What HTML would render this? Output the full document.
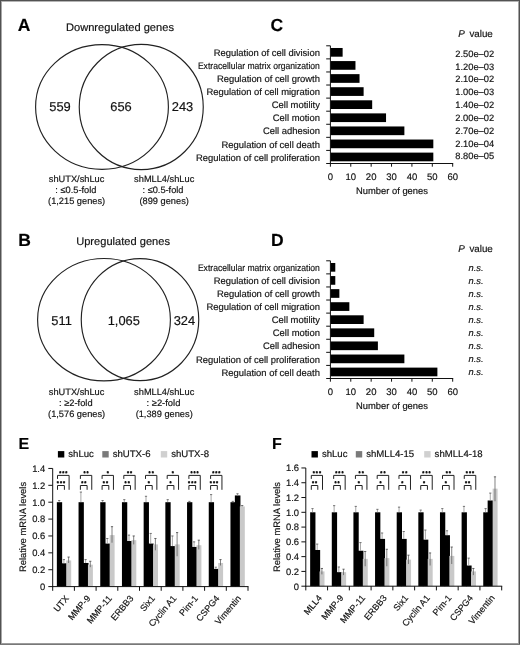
<!DOCTYPE html><html><head><meta charset="utf-8"><style>html,body{margin:0;padding:0;background:#fff}svg{display:block;text-rendering:geometricPrecision}text{stroke:#1a1a1a;stroke-width:0.18px}text.st{font-size:5.4px;letter-spacing:1.0px;stroke:#111;stroke-width:0.55px;fill:#111}</style></head><body>
<svg width="520" height="645" viewBox="0 0 520 645" font-family="'Liberation Sans', Arial, Helvetica, sans-serif">
<rect x="0.00" y="0.00" width="520.00" height="645.00" fill="#fff"/>
<text x="17.80" y="30.80" font-size="17.5" font-weight="bold" fill="#000">A</text>
<text x="66.00" y="31.20" font-size="11.1" fill="#111">Downregulated genes</text>
<ellipse cx="102" cy="107" rx="66.4" ry="62.3" fill="none" stroke="#222" stroke-width="1.15"/>
<ellipse cx="141.25" cy="107" rx="62" ry="62.6" fill="none" stroke="#222" stroke-width="1.15"/>
<text x="60.00" y="111.00" font-size="12.9" text-anchor="middle" fill="#111">559</text>
<text x="121.00" y="111.00" font-size="12.9" text-anchor="middle" fill="#111">656</text>
<text x="182.50" y="111.00" font-size="12.9" text-anchor="middle" fill="#111">243</text>
<text x="76.60" y="181.90" font-size="9.25" text-anchor="middle" fill="#111">shUTX/shLuc</text>
<text x="75.90" y="192.85" font-size="9.25" text-anchor="middle" textLength="41.2" lengthAdjust="spacingAndGlyphs" fill="#111">: ≤0.5-fold</text>
<text x="76.60" y="203.70" font-size="9.25" text-anchor="middle" fill="#111">(1,215 genes)</text>
<text x="164.20" y="181.90" font-size="9.25" text-anchor="middle" fill="#111">shMLL4/shLuc</text>
<text x="163.00" y="192.85" font-size="9.25" text-anchor="middle" textLength="41.0" lengthAdjust="spacingAndGlyphs" fill="#111">: ≤0.5-fold</text>
<text x="164.20" y="203.70" font-size="9.25" text-anchor="middle" fill="#111">(899 genes)</text>
<text x="18.20" y="245.60" font-size="17.5" font-weight="bold" fill="#000">B</text>
<text x="76.20" y="245.10" font-size="11.1" fill="#111">Upregulated genes</text>
<ellipse cx="104" cy="319.7" rx="66.4" ry="61.2" fill="none" stroke="#222" stroke-width="1.15"/>
<ellipse cx="140" cy="319.6" rx="58.75" ry="61" fill="none" stroke="#222" stroke-width="1.15"/>
<text x="61.60" y="324.90" font-size="12.9" text-anchor="middle" fill="#111">511</text>
<text x="123.85" y="324.90" font-size="12.9" text-anchor="middle" fill="#111">1,065</text>
<text x="184.40" y="324.90" font-size="12.9" text-anchor="middle" fill="#111">324</text>
<text x="76.60" y="394.90" font-size="9.25" text-anchor="middle" fill="#111">shUTX/shLuc</text>
<text x="75.80" y="405.90" font-size="9.25" text-anchor="middle" textLength="33.5" lengthAdjust="spacingAndGlyphs" fill="#111">: ≥2-fold</text>
<text x="76.60" y="416.90" font-size="9.25" text-anchor="middle" fill="#111">(1,576 genes)</text>
<text x="164.20" y="394.90" font-size="9.25" text-anchor="middle" fill="#111">shMLL4/shLuc</text>
<text x="163.45" y="405.90" font-size="9.25" text-anchor="middle" textLength="33.9" lengthAdjust="spacingAndGlyphs" fill="#111">: ≥2-fold</text>
<text x="164.20" y="416.90" font-size="9.25" text-anchor="middle" fill="#111">(1,389 genes)</text>
<text x="270.60" y="31.00" font-size="17.5" font-weight="bold" fill="#000">C</text>
<rect x="330.40" y="47.99" width="12.23" height="8.70" fill="#000"/>
<rect x="330.40" y="61.07" width="25.07" height="8.70" fill="#000"/>
<rect x="330.40" y="74.14" width="29.14" height="8.70" fill="#000"/>
<rect x="330.40" y="87.22" width="33.22" height="8.70" fill="#000"/>
<rect x="330.40" y="100.30" width="41.78" height="8.70" fill="#000"/>
<rect x="330.40" y="113.38" width="55.64" height="8.70" fill="#000"/>
<rect x="330.40" y="126.46" width="73.98" height="8.70" fill="#000"/>
<rect x="330.40" y="139.53" width="102.92" height="8.70" fill="#000"/>
<rect x="330.40" y="152.61" width="102.92" height="8.70" fill="#000"/>
<line x1="330.40" y1="45.80" x2="330.40" y2="164.00" stroke="#111" stroke-width="1.0"/>
<line x1="329.90" y1="163.50" x2="453.20" y2="163.50" stroke="#111" stroke-width="1.0"/>
<line x1="326.20" y1="45.80" x2="330.40" y2="45.80" stroke="#111" stroke-width="1.0"/>
<line x1="326.20" y1="58.88" x2="330.40" y2="58.88" stroke="#111" stroke-width="1.0"/>
<line x1="326.20" y1="71.96" x2="330.40" y2="71.96" stroke="#111" stroke-width="1.0"/>
<line x1="326.20" y1="85.03" x2="330.40" y2="85.03" stroke="#111" stroke-width="1.0"/>
<line x1="326.20" y1="98.11" x2="330.40" y2="98.11" stroke="#111" stroke-width="1.0"/>
<line x1="326.20" y1="111.19" x2="330.40" y2="111.19" stroke="#111" stroke-width="1.0"/>
<line x1="326.20" y1="124.27" x2="330.40" y2="124.27" stroke="#111" stroke-width="1.0"/>
<line x1="326.20" y1="137.34" x2="330.40" y2="137.34" stroke="#111" stroke-width="1.0"/>
<line x1="326.20" y1="150.42" x2="330.40" y2="150.42" stroke="#111" stroke-width="1.0"/>
<line x1="326.20" y1="163.50" x2="330.40" y2="163.50" stroke="#111" stroke-width="1.0"/>
<line x1="330.40" y1="163.50" x2="330.40" y2="166.70" stroke="#111" stroke-width="1.0"/>
<text x="330.40" y="179.50" font-size="9.5" text-anchor="middle" fill="#111">0</text>
<line x1="350.78" y1="163.50" x2="350.78" y2="166.70" stroke="#111" stroke-width="1.0"/>
<text x="350.78" y="179.50" font-size="9.5" text-anchor="middle" fill="#111">10</text>
<line x1="371.16" y1="163.50" x2="371.16" y2="166.70" stroke="#111" stroke-width="1.0"/>
<text x="371.16" y="179.50" font-size="9.5" text-anchor="middle" fill="#111">20</text>
<line x1="391.54" y1="163.50" x2="391.54" y2="166.70" stroke="#111" stroke-width="1.0"/>
<text x="391.54" y="179.50" font-size="9.5" text-anchor="middle" fill="#111">30</text>
<line x1="411.92" y1="163.50" x2="411.92" y2="166.70" stroke="#111" stroke-width="1.0"/>
<text x="411.92" y="179.50" font-size="9.5" text-anchor="middle" fill="#111">40</text>
<line x1="432.30" y1="163.50" x2="432.30" y2="166.70" stroke="#111" stroke-width="1.0"/>
<text x="432.30" y="179.50" font-size="9.5" text-anchor="middle" fill="#111">50</text>
<line x1="452.68" y1="163.50" x2="452.68" y2="166.70" stroke="#111" stroke-width="1.0"/>
<text x="452.68" y="179.50" font-size="9.5" text-anchor="middle" fill="#111">60</text>
<text x="392.00" y="194.00" font-size="9.4" text-anchor="middle" fill="#111">Number of genes</text>
<text x="319.90" y="56.30" font-size="9.42" text-anchor="end" fill="#111">Regulation of cell division</text>
<text x="319.90" y="69.33" font-size="9.42" text-anchor="end" textLength="122.0" lengthAdjust="spacingAndGlyphs" fill="#111">Extracellular matrix organization</text>
<text x="319.90" y="82.36" font-size="9.42" text-anchor="end" fill="#111">Regulation of cell growth</text>
<text x="319.90" y="95.39" font-size="9.42" text-anchor="end" fill="#111">Regulation of cell migration</text>
<text x="319.90" y="108.42" font-size="9.42" text-anchor="end" fill="#111">Cell motility</text>
<text x="319.90" y="121.45" font-size="9.42" text-anchor="end" fill="#111">Cell motion</text>
<text x="319.90" y="134.48" font-size="9.42" text-anchor="end" fill="#111">Cell adhesion</text>
<text x="319.90" y="147.51" font-size="9.42" text-anchor="end" fill="#111">Regulation of cell death</text>
<text x="319.90" y="160.54" font-size="9.42" text-anchor="end" fill="#111">Regulation of cell proliferation</text>
<text x="458.20" y="36.70" font-size="9.8" font-style="italic" fill="#111">P</text>
<text x="469.40" y="36.70" font-size="9.8" fill="#111">value</text>
<text x="474.70" y="56.70" font-size="9.3" text-anchor="middle" fill="#111">2.50e–02</text>
<text x="474.70" y="69.54" font-size="9.3" text-anchor="middle" fill="#111">1.20e–03</text>
<text x="474.70" y="82.38" font-size="9.3" text-anchor="middle" fill="#111">2.10e–02</text>
<text x="474.70" y="95.22" font-size="9.3" text-anchor="middle" fill="#111">1.00e–03</text>
<text x="474.70" y="108.06" font-size="9.3" text-anchor="middle" fill="#111">1.40e–02</text>
<text x="474.70" y="120.90" font-size="9.3" text-anchor="middle" fill="#111">2.00e–02</text>
<text x="474.70" y="133.74" font-size="9.3" text-anchor="middle" fill="#111">2.70e–02</text>
<text x="474.70" y="146.58" font-size="9.3" text-anchor="middle" fill="#111">2.10e–04</text>
<text x="474.70" y="159.42" font-size="9.3" text-anchor="middle" fill="#111">8.80e–05</text>
<text x="271.00" y="245.70" font-size="17.5" font-weight="bold" fill="#000">D</text>
<rect x="330.40" y="262.99" width="4.89" height="8.70" fill="#000"/>
<rect x="330.40" y="276.07" width="4.89" height="8.70" fill="#000"/>
<rect x="330.40" y="289.14" width="8.97" height="8.70" fill="#000"/>
<rect x="330.40" y="302.22" width="18.95" height="8.70" fill="#000"/>
<rect x="330.40" y="315.30" width="33.22" height="8.70" fill="#000"/>
<rect x="330.40" y="328.38" width="43.82" height="8.70" fill="#000"/>
<rect x="330.40" y="341.46" width="47.49" height="8.70" fill="#000"/>
<rect x="330.40" y="354.53" width="73.98" height="8.70" fill="#000"/>
<rect x="330.40" y="367.61" width="106.99" height="8.70" fill="#000"/>
<line x1="330.40" y1="260.80" x2="330.40" y2="379.00" stroke="#111" stroke-width="1.0"/>
<line x1="329.90" y1="378.50" x2="453.20" y2="378.50" stroke="#111" stroke-width="1.0"/>
<line x1="326.20" y1="260.80" x2="330.40" y2="260.80" stroke="#111" stroke-width="1.0"/>
<line x1="326.20" y1="273.88" x2="330.40" y2="273.88" stroke="#111" stroke-width="1.0"/>
<line x1="326.20" y1="286.96" x2="330.40" y2="286.96" stroke="#111" stroke-width="1.0"/>
<line x1="326.20" y1="300.03" x2="330.40" y2="300.03" stroke="#111" stroke-width="1.0"/>
<line x1="326.20" y1="313.11" x2="330.40" y2="313.11" stroke="#111" stroke-width="1.0"/>
<line x1="326.20" y1="326.19" x2="330.40" y2="326.19" stroke="#111" stroke-width="1.0"/>
<line x1="326.20" y1="339.27" x2="330.40" y2="339.27" stroke="#111" stroke-width="1.0"/>
<line x1="326.20" y1="352.34" x2="330.40" y2="352.34" stroke="#111" stroke-width="1.0"/>
<line x1="326.20" y1="365.42" x2="330.40" y2="365.42" stroke="#111" stroke-width="1.0"/>
<line x1="326.20" y1="378.50" x2="330.40" y2="378.50" stroke="#111" stroke-width="1.0"/>
<line x1="330.40" y1="378.50" x2="330.40" y2="381.70" stroke="#111" stroke-width="1.0"/>
<text x="330.40" y="394.50" font-size="9.5" text-anchor="middle" fill="#111">0</text>
<line x1="350.78" y1="378.50" x2="350.78" y2="381.70" stroke="#111" stroke-width="1.0"/>
<text x="350.78" y="394.50" font-size="9.5" text-anchor="middle" fill="#111">10</text>
<line x1="371.16" y1="378.50" x2="371.16" y2="381.70" stroke="#111" stroke-width="1.0"/>
<text x="371.16" y="394.50" font-size="9.5" text-anchor="middle" fill="#111">20</text>
<line x1="391.54" y1="378.50" x2="391.54" y2="381.70" stroke="#111" stroke-width="1.0"/>
<text x="391.54" y="394.50" font-size="9.5" text-anchor="middle" fill="#111">30</text>
<line x1="411.92" y1="378.50" x2="411.92" y2="381.70" stroke="#111" stroke-width="1.0"/>
<text x="411.92" y="394.50" font-size="9.5" text-anchor="middle" fill="#111">40</text>
<line x1="432.30" y1="378.50" x2="432.30" y2="381.70" stroke="#111" stroke-width="1.0"/>
<text x="432.30" y="394.50" font-size="9.5" text-anchor="middle" fill="#111">50</text>
<line x1="452.68" y1="378.50" x2="452.68" y2="381.70" stroke="#111" stroke-width="1.0"/>
<text x="452.68" y="394.50" font-size="9.5" text-anchor="middle" fill="#111">60</text>
<text x="392.00" y="409.00" font-size="9.4" text-anchor="middle" fill="#111">Number of genes</text>
<text x="319.90" y="271.30" font-size="9.42" text-anchor="end" textLength="122.0" lengthAdjust="spacingAndGlyphs" fill="#111">Extracellular matrix organization</text>
<text x="319.90" y="284.33" font-size="9.42" text-anchor="end" fill="#111">Regulation of cell division</text>
<text x="319.90" y="297.36" font-size="9.42" text-anchor="end" fill="#111">Regulation of cell growth</text>
<text x="319.90" y="310.39" font-size="9.42" text-anchor="end" fill="#111">Regulation of cell migration</text>
<text x="319.90" y="323.42" font-size="9.42" text-anchor="end" fill="#111">Cell motility</text>
<text x="319.90" y="336.45" font-size="9.42" text-anchor="end" fill="#111">Cell motion</text>
<text x="319.90" y="349.48" font-size="9.42" text-anchor="end" fill="#111">Cell adhesion</text>
<text x="319.90" y="362.51" font-size="9.42" text-anchor="end" fill="#111">Regulation of cell proliferation</text>
<text x="319.90" y="375.54" font-size="9.42" text-anchor="end" fill="#111">Regulation of cell death</text>
<text x="458.20" y="251.70" font-size="9.8" font-style="italic" fill="#111">P</text>
<text x="469.40" y="251.70" font-size="9.8" fill="#111">value</text>
<text x="476.00" y="270.60" font-size="9.3" text-anchor="middle" font-style="italic" fill="#111">n.s.</text>
<text x="476.00" y="283.67" font-size="9.3" text-anchor="middle" font-style="italic" fill="#111">n.s.</text>
<text x="476.00" y="296.74" font-size="9.3" text-anchor="middle" font-style="italic" fill="#111">n.s.</text>
<text x="476.00" y="309.81" font-size="9.3" text-anchor="middle" font-style="italic" fill="#111">n.s.</text>
<text x="476.00" y="322.88" font-size="9.3" text-anchor="middle" font-style="italic" fill="#111">n.s.</text>
<text x="476.00" y="335.95" font-size="9.3" text-anchor="middle" font-style="italic" fill="#111">n.s.</text>
<text x="476.00" y="349.02" font-size="9.3" text-anchor="middle" font-style="italic" fill="#111">n.s.</text>
<text x="476.00" y="362.09" font-size="9.3" text-anchor="middle" font-style="italic" fill="#111">n.s.</text>
<text x="476.00" y="375.16" font-size="9.3" text-anchor="middle" font-style="italic" fill="#111">n.s.</text>
<text x="18.50" y="448.80" font-size="16" font-weight="bold" fill="#000">E</text>
<rect x="56.85" y="502.20" width="5.30" height="84.40" fill="#000"/>
<rect x="61.25" y="563.31" width="5.60" height="23.29" fill="#000"/>
<rect x="66.25" y="560.44" width="4.95" height="26.16" fill="#c9c9c9"/>
<line x1="59.20" y1="500.51" x2="59.20" y2="502.20" stroke="#8a8a8a" stroke-width="0.75"/>
<line x1="58.10" y1="500.51" x2="60.30" y2="500.51" stroke="#555" stroke-width="0.8"/>
<line x1="63.90" y1="559.59" x2="63.90" y2="563.31" stroke="#8a8a8a" stroke-width="0.75"/>
<line x1="62.80" y1="559.59" x2="65.00" y2="559.59" stroke="#555" stroke-width="0.8"/>
<line x1="68.60" y1="557.06" x2="68.60" y2="562.97" stroke="#5a5a5a" stroke-width="0.75"/>
<line x1="67.50" y1="557.06" x2="69.70" y2="557.06" stroke="#444" stroke-width="0.8"/>
<rect x="78.55" y="502.20" width="5.30" height="84.40" fill="#000"/>
<rect x="82.95" y="562.97" width="5.60" height="23.63" fill="#000"/>
<rect x="87.95" y="564.66" width="4.95" height="21.94" fill="#c9c9c9"/>
<line x1="80.90" y1="492.07" x2="80.90" y2="502.20" stroke="#8a8a8a" stroke-width="0.75"/>
<line x1="79.80" y1="492.07" x2="82.00" y2="492.07" stroke="#555" stroke-width="0.8"/>
<line x1="85.60" y1="559.59" x2="85.60" y2="562.97" stroke="#8a8a8a" stroke-width="0.75"/>
<line x1="84.50" y1="559.59" x2="86.70" y2="559.59" stroke="#555" stroke-width="0.8"/>
<line x1="90.30" y1="561.28" x2="90.30" y2="567.19" stroke="#5a5a5a" stroke-width="0.75"/>
<line x1="89.20" y1="561.28" x2="91.40" y2="561.28" stroke="#444" stroke-width="0.8"/>
<rect x="100.25" y="502.20" width="5.30" height="84.40" fill="#000"/>
<rect x="104.65" y="543.56" width="5.60" height="43.04" fill="#000"/>
<rect x="109.65" y="535.12" width="4.95" height="51.48" fill="#c9c9c9"/>
<line x1="102.60" y1="500.51" x2="102.60" y2="502.20" stroke="#8a8a8a" stroke-width="0.75"/>
<line x1="101.50" y1="500.51" x2="103.70" y2="500.51" stroke="#555" stroke-width="0.8"/>
<line x1="107.30" y1="538.49" x2="107.30" y2="543.56" stroke="#8a8a8a" stroke-width="0.75"/>
<line x1="106.20" y1="538.49" x2="108.40" y2="538.49" stroke="#555" stroke-width="0.8"/>
<line x1="112.00" y1="526.68" x2="112.00" y2="542.71" stroke="#5a5a5a" stroke-width="0.75"/>
<line x1="110.90" y1="526.68" x2="113.10" y2="526.68" stroke="#444" stroke-width="0.8"/>
<rect x="121.95" y="502.20" width="5.30" height="84.40" fill="#000"/>
<rect x="126.35" y="541.02" width="5.60" height="45.58" fill="#000"/>
<rect x="131.35" y="540.18" width="4.95" height="46.42" fill="#c9c9c9"/>
<line x1="124.30" y1="499.67" x2="124.30" y2="502.20" stroke="#8a8a8a" stroke-width="0.75"/>
<line x1="123.20" y1="499.67" x2="125.40" y2="499.67" stroke="#555" stroke-width="0.8"/>
<line x1="129.00" y1="535.12" x2="129.00" y2="541.02" stroke="#8a8a8a" stroke-width="0.75"/>
<line x1="127.90" y1="535.12" x2="130.10" y2="535.12" stroke="#555" stroke-width="0.8"/>
<line x1="133.70" y1="535.96" x2="133.70" y2="544.40" stroke="#5a5a5a" stroke-width="0.75"/>
<line x1="132.60" y1="535.96" x2="134.80" y2="535.96" stroke="#444" stroke-width="0.8"/>
<rect x="143.65" y="502.20" width="5.30" height="84.40" fill="#000"/>
<rect x="148.05" y="543.56" width="5.60" height="43.04" fill="#000"/>
<rect x="153.05" y="544.40" width="4.95" height="42.20" fill="#c9c9c9"/>
<line x1="146.00" y1="496.29" x2="146.00" y2="502.20" stroke="#8a8a8a" stroke-width="0.75"/>
<line x1="144.90" y1="496.29" x2="147.10" y2="496.29" stroke="#555" stroke-width="0.8"/>
<line x1="150.70" y1="533.43" x2="150.70" y2="543.56" stroke="#8a8a8a" stroke-width="0.75"/>
<line x1="149.60" y1="533.43" x2="151.80" y2="533.43" stroke="#555" stroke-width="0.8"/>
<line x1="155.40" y1="538.49" x2="155.40" y2="550.31" stroke="#5a5a5a" stroke-width="0.75"/>
<line x1="154.30" y1="538.49" x2="156.50" y2="538.49" stroke="#444" stroke-width="0.8"/>
<rect x="165.35" y="502.20" width="5.30" height="84.40" fill="#000"/>
<rect x="169.75" y="546.09" width="5.60" height="40.51" fill="#000"/>
<rect x="174.75" y="544.40" width="4.95" height="42.20" fill="#c9c9c9"/>
<line x1="167.70" y1="499.67" x2="167.70" y2="502.20" stroke="#8a8a8a" stroke-width="0.75"/>
<line x1="166.60" y1="499.67" x2="168.80" y2="499.67" stroke="#555" stroke-width="0.8"/>
<line x1="172.40" y1="535.96" x2="172.40" y2="546.09" stroke="#8a8a8a" stroke-width="0.75"/>
<line x1="171.30" y1="535.96" x2="173.50" y2="535.96" stroke="#555" stroke-width="0.8"/>
<line x1="177.10" y1="532.58" x2="177.10" y2="556.22" stroke="#5a5a5a" stroke-width="0.75"/>
<line x1="176.00" y1="532.58" x2="178.20" y2="532.58" stroke="#444" stroke-width="0.8"/>
<rect x="187.05" y="502.20" width="5.30" height="84.40" fill="#000"/>
<rect x="191.45" y="546.93" width="5.60" height="39.67" fill="#000"/>
<rect x="196.45" y="545.24" width="4.95" height="41.36" fill="#c9c9c9"/>
<line x1="189.40" y1="501.36" x2="189.40" y2="502.20" stroke="#8a8a8a" stroke-width="0.75"/>
<line x1="188.30" y1="501.36" x2="190.50" y2="501.36" stroke="#555" stroke-width="0.8"/>
<line x1="194.10" y1="541.87" x2="194.10" y2="546.93" stroke="#8a8a8a" stroke-width="0.75"/>
<line x1="193.00" y1="541.87" x2="195.20" y2="541.87" stroke="#555" stroke-width="0.8"/>
<line x1="198.80" y1="540.18" x2="198.80" y2="549.46" stroke="#5a5a5a" stroke-width="0.75"/>
<line x1="197.70" y1="540.18" x2="199.90" y2="540.18" stroke="#444" stroke-width="0.8"/>
<rect x="208.75" y="502.20" width="5.30" height="84.40" fill="#000"/>
<rect x="213.15" y="568.88" width="5.60" height="17.72" fill="#000"/>
<rect x="218.15" y="562.97" width="4.95" height="23.63" fill="#c9c9c9"/>
<line x1="211.10" y1="494.60" x2="211.10" y2="502.20" stroke="#8a8a8a" stroke-width="0.75"/>
<line x1="210.00" y1="494.60" x2="212.20" y2="494.60" stroke="#555" stroke-width="0.8"/>
<line x1="215.80" y1="567.19" x2="215.80" y2="568.88" stroke="#8a8a8a" stroke-width="0.75"/>
<line x1="214.70" y1="567.19" x2="216.90" y2="567.19" stroke="#555" stroke-width="0.8"/>
<line x1="220.50" y1="559.59" x2="220.50" y2="565.50" stroke="#5a5a5a" stroke-width="0.75"/>
<line x1="219.40" y1="559.59" x2="221.60" y2="559.59" stroke="#444" stroke-width="0.8"/>
<rect x="230.45" y="502.20" width="5.30" height="84.40" fill="#000"/>
<rect x="234.85" y="495.45" width="5.60" height="91.15" fill="#000"/>
<rect x="239.85" y="506.42" width="4.95" height="80.18" fill="#c9c9c9"/>
<line x1="232.80" y1="501.36" x2="232.80" y2="502.20" stroke="#8a8a8a" stroke-width="0.75"/>
<line x1="231.70" y1="501.36" x2="233.90" y2="501.36" stroke="#555" stroke-width="0.8"/>
<line x1="237.50" y1="493.76" x2="237.50" y2="495.45" stroke="#8a8a8a" stroke-width="0.75"/>
<line x1="236.40" y1="493.76" x2="238.60" y2="493.76" stroke="#555" stroke-width="0.8"/>
<line x1="242.20" y1="505.58" x2="242.20" y2="506.42" stroke="#5a5a5a" stroke-width="0.75"/>
<line x1="241.10" y1="505.58" x2="243.30" y2="505.58" stroke="#444" stroke-width="0.8"/>
<line x1="52.70" y1="468.44" x2="52.70" y2="587.10" stroke="#111" stroke-width="1.0"/>
<line x1="52.20" y1="586.60" x2="248.50" y2="586.60" stroke="#111" stroke-width="1.0"/>
<line x1="48.30" y1="586.60" x2="52.70" y2="586.60" stroke="#111" stroke-width="1.0"/>
<text x="45.20" y="589.90" font-size="9.4" text-anchor="end" fill="#111">0</text>
<line x1="48.30" y1="569.72" x2="52.70" y2="569.72" stroke="#111" stroke-width="1.0"/>
<text x="45.20" y="573.02" font-size="9.4" text-anchor="end" fill="#111">0.2</text>
<line x1="48.30" y1="552.84" x2="52.70" y2="552.84" stroke="#111" stroke-width="1.0"/>
<text x="45.20" y="556.14" font-size="9.4" text-anchor="end" fill="#111">0.4</text>
<line x1="48.30" y1="535.96" x2="52.70" y2="535.96" stroke="#111" stroke-width="1.0"/>
<text x="45.20" y="539.26" font-size="9.4" text-anchor="end" fill="#111">0.6</text>
<line x1="48.30" y1="519.08" x2="52.70" y2="519.08" stroke="#111" stroke-width="1.0"/>
<text x="45.20" y="522.38" font-size="9.4" text-anchor="end" fill="#111">0.8</text>
<line x1="48.30" y1="502.20" x2="52.70" y2="502.20" stroke="#111" stroke-width="1.0"/>
<text x="45.20" y="505.50" font-size="9.4" text-anchor="end" fill="#111">1.0</text>
<line x1="48.30" y1="485.32" x2="52.70" y2="485.32" stroke="#111" stroke-width="1.0"/>
<text x="45.20" y="488.62" font-size="9.4" text-anchor="end" fill="#111">1.2</text>
<line x1="48.30" y1="468.44" x2="52.70" y2="468.44" stroke="#111" stroke-width="1.0"/>
<text x="45.20" y="471.74" font-size="9.4" text-anchor="end" fill="#111">1.4</text>
<line x1="52.70" y1="586.60" x2="52.70" y2="590.80" stroke="#111" stroke-width="1.0"/>
<line x1="74.40" y1="586.60" x2="74.40" y2="590.80" stroke="#111" stroke-width="1.0"/>
<line x1="96.10" y1="586.60" x2="96.10" y2="590.80" stroke="#111" stroke-width="1.0"/>
<line x1="117.80" y1="586.60" x2="117.80" y2="590.80" stroke="#111" stroke-width="1.0"/>
<line x1="139.50" y1="586.60" x2="139.50" y2="590.80" stroke="#111" stroke-width="1.0"/>
<line x1="161.20" y1="586.60" x2="161.20" y2="590.80" stroke="#111" stroke-width="1.0"/>
<line x1="182.90" y1="586.60" x2="182.90" y2="590.80" stroke="#111" stroke-width="1.0"/>
<line x1="204.60" y1="586.60" x2="204.60" y2="590.80" stroke="#111" stroke-width="1.0"/>
<line x1="226.30" y1="586.60" x2="226.30" y2="590.80" stroke="#111" stroke-width="1.0"/>
<line x1="248.00" y1="586.60" x2="248.00" y2="590.80" stroke="#111" stroke-width="1.0"/>
<text x="69.35" y="598.60" font-size="9.0" text-anchor="end" fill="#111" transform="rotate(-50 69.35 598.60)">UTX</text>
<text x="90.87" y="598.60" font-size="9.0" text-anchor="end" fill="#111" transform="rotate(-50 90.87 598.60)">MMP-9</text>
<text x="112.39" y="598.60" font-size="9.0" text-anchor="end" fill="#111" transform="rotate(-50 112.39 598.60)">MMP-11</text>
<text x="133.91" y="598.60" font-size="9.0" text-anchor="end" fill="#111" transform="rotate(-50 133.91 598.60)">ERBB3</text>
<text x="155.43" y="598.60" font-size="9.0" text-anchor="end" fill="#111" transform="rotate(-50 155.43 598.60)">Six1</text>
<text x="176.95" y="598.60" font-size="9.0" text-anchor="end" fill="#111" transform="rotate(-50 176.95 598.60)">Cyclin A1</text>
<text x="198.47" y="598.60" font-size="9.0" text-anchor="end" fill="#111" transform="rotate(-50 198.47 598.60)">Pim-1</text>
<text x="219.99" y="598.60" font-size="9.0" text-anchor="end" fill="#111" transform="rotate(-50 219.99 598.60)">CSPG4</text>
<text x="241.51" y="598.60" font-size="9.0" text-anchor="end" fill="#111" transform="rotate(-50 241.51 598.60)">Vimentin</text>
<text x="26.20" y="527" font-size="9.4" text-anchor="middle" fill="#111" transform="rotate(-90 26.20 527)">Relative mRNA levels</text>
<rect x="57.90" y="451.10" width="6.40" height="6.40" fill="#000"/>
<text x="68.30" y="457.20" font-size="9.6" fill="#111">shLuc</text>
<rect x="102.30" y="451.10" width="6.40" height="6.40" fill="#7a7a7a"/>
<text x="112.70" y="457.20" font-size="9.6" fill="#111">shUTX-6</text>
<rect x="160.80" y="451.10" width="6.40" height="6.40" fill="#d0d0d0"/>
<text x="171.20" y="457.20" font-size="9.6" fill="#111">shUTX-8</text>
<path d="M57.50 478.90 V475.40 H69.10 V489.80" fill="none" stroke="#222" stroke-width="1.0"/>
<path d="M57.50 489.80 V485.50 H64.40 V489.80" fill="none" stroke="#222" stroke-width="1.0"/>
<text class="st" x="63.80" y="474.90" text-anchor="middle">***</text>
<text class="st" x="61.45" y="485.30" text-anchor="middle">***</text>
<path d="M80.40 478.90 V475.40 H91.75 V489.80" fill="none" stroke="#222" stroke-width="1.0"/>
<path d="M80.40 489.80 V485.50 H87.10 V489.80" fill="none" stroke="#222" stroke-width="1.0"/>
<text class="st" x="86.58" y="474.90" text-anchor="middle">**</text>
<text class="st" x="84.25" y="485.30" text-anchor="middle">**</text>
<path d="M102.10 478.90 V475.40 H113.45 V489.80" fill="none" stroke="#222" stroke-width="1.0"/>
<path d="M102.10 489.80 V485.50 H108.80 V489.80" fill="none" stroke="#222" stroke-width="1.0"/>
<text class="st" x="108.28" y="474.90" text-anchor="middle">*</text>
<text class="st" x="105.95" y="485.30" text-anchor="middle">**</text>
<path d="M123.80 478.90 V475.40 H135.15 V489.80" fill="none" stroke="#222" stroke-width="1.0"/>
<path d="M123.80 489.80 V485.50 H130.50 V489.80" fill="none" stroke="#222" stroke-width="1.0"/>
<text class="st" x="129.98" y="474.90" text-anchor="middle">**</text>
<text class="st" x="127.65" y="485.30" text-anchor="middle">**</text>
<path d="M145.50 478.90 V475.40 H156.85 V489.80" fill="none" stroke="#222" stroke-width="1.0"/>
<path d="M145.50 489.80 V485.50 H152.20 V489.80" fill="none" stroke="#222" stroke-width="1.0"/>
<text class="st" x="151.68" y="474.90" text-anchor="middle">**</text>
<text class="st" x="149.35" y="485.30" text-anchor="middle">*</text>
<path d="M167.20 478.90 V475.40 H178.55 V489.80" fill="none" stroke="#222" stroke-width="1.0"/>
<path d="M167.20 489.80 V485.50 H173.90 V489.80" fill="none" stroke="#222" stroke-width="1.0"/>
<text class="st" x="173.38" y="474.90" text-anchor="middle">*</text>
<text class="st" x="171.05" y="485.30" text-anchor="middle">*</text>
<path d="M188.90 478.90 V475.40 H200.25 V489.80" fill="none" stroke="#222" stroke-width="1.0"/>
<path d="M188.90 489.80 V485.50 H195.60 V489.80" fill="none" stroke="#222" stroke-width="1.0"/>
<text class="st" x="195.08" y="474.90" text-anchor="middle">***</text>
<text class="st" x="192.75" y="485.30" text-anchor="middle">***</text>
<path d="M210.60 478.90 V475.40 H221.95 V489.80" fill="none" stroke="#222" stroke-width="1.0"/>
<path d="M210.60 489.80 V485.50 H217.30 V489.80" fill="none" stroke="#222" stroke-width="1.0"/>
<text class="st" x="216.78" y="474.90" text-anchor="middle">***</text>
<text class="st" x="214.45" y="485.30" text-anchor="middle">***</text>
<text x="272.10" y="448.80" font-size="16" font-weight="bold" fill="#000">F</text>
<rect x="310.15" y="512.30" width="5.30" height="73.90" fill="#000"/>
<rect x="314.55" y="549.99" width="5.60" height="36.21" fill="#000"/>
<rect x="319.55" y="571.42" width="4.95" height="14.78" fill="#c9c9c9"/>
<line x1="312.50" y1="508.61" x2="312.50" y2="512.30" stroke="#8a8a8a" stroke-width="0.75"/>
<line x1="311.40" y1="508.61" x2="313.60" y2="508.61" stroke="#555" stroke-width="0.8"/>
<line x1="317.20" y1="544.08" x2="317.20" y2="549.99" stroke="#8a8a8a" stroke-width="0.75"/>
<line x1="316.10" y1="544.08" x2="318.30" y2="544.08" stroke="#555" stroke-width="0.8"/>
<line x1="321.90" y1="568.46" x2="321.90" y2="574.38" stroke="#5a5a5a" stroke-width="0.75"/>
<line x1="320.80" y1="568.46" x2="323.00" y2="568.46" stroke="#444" stroke-width="0.8"/>
<rect x="331.79" y="512.30" width="5.30" height="73.90" fill="#000"/>
<rect x="336.19" y="572.16" width="5.60" height="14.04" fill="#000"/>
<rect x="341.19" y="572.16" width="4.95" height="14.04" fill="#c9c9c9"/>
<line x1="334.14" y1="505.65" x2="334.14" y2="512.30" stroke="#8a8a8a" stroke-width="0.75"/>
<line x1="333.04" y1="505.65" x2="335.24" y2="505.65" stroke="#555" stroke-width="0.8"/>
<line x1="338.84" y1="566.99" x2="338.84" y2="572.16" stroke="#8a8a8a" stroke-width="0.75"/>
<line x1="337.74" y1="566.99" x2="339.94" y2="566.99" stroke="#555" stroke-width="0.8"/>
<line x1="343.54" y1="569.20" x2="343.54" y2="575.12" stroke="#5a5a5a" stroke-width="0.75"/>
<line x1="342.44" y1="569.20" x2="344.64" y2="569.20" stroke="#444" stroke-width="0.8"/>
<rect x="353.42" y="512.30" width="5.30" height="73.90" fill="#000"/>
<rect x="357.82" y="550.73" width="5.60" height="35.47" fill="#000"/>
<rect x="362.82" y="558.86" width="4.95" height="27.34" fill="#c9c9c9"/>
<line x1="355.77" y1="506.39" x2="355.77" y2="512.30" stroke="#8a8a8a" stroke-width="0.75"/>
<line x1="354.67" y1="506.39" x2="356.87" y2="506.39" stroke="#555" stroke-width="0.8"/>
<line x1="360.47" y1="542.60" x2="360.47" y2="550.73" stroke="#8a8a8a" stroke-width="0.75"/>
<line x1="359.37" y1="542.60" x2="361.57" y2="542.60" stroke="#555" stroke-width="0.8"/>
<line x1="365.17" y1="551.47" x2="365.17" y2="566.25" stroke="#5a5a5a" stroke-width="0.75"/>
<line x1="364.07" y1="551.47" x2="366.27" y2="551.47" stroke="#444" stroke-width="0.8"/>
<rect x="375.06" y="512.30" width="5.30" height="73.90" fill="#000"/>
<rect x="379.46" y="538.90" width="5.60" height="47.30" fill="#000"/>
<rect x="384.46" y="558.12" width="4.95" height="28.08" fill="#c9c9c9"/>
<line x1="377.41" y1="509.34" x2="377.41" y2="512.30" stroke="#8a8a8a" stroke-width="0.75"/>
<line x1="376.31" y1="509.34" x2="378.51" y2="509.34" stroke="#555" stroke-width="0.8"/>
<line x1="382.11" y1="532.99" x2="382.11" y2="538.90" stroke="#8a8a8a" stroke-width="0.75"/>
<line x1="381.01" y1="532.99" x2="383.21" y2="532.99" stroke="#555" stroke-width="0.8"/>
<line x1="386.81" y1="549.25" x2="386.81" y2="566.25" stroke="#5a5a5a" stroke-width="0.75"/>
<line x1="385.71" y1="549.25" x2="387.91" y2="549.25" stroke="#444" stroke-width="0.8"/>
<rect x="396.70" y="512.30" width="5.30" height="73.90" fill="#000"/>
<rect x="401.10" y="538.90" width="5.60" height="47.30" fill="#000"/>
<rect x="406.10" y="559.60" width="4.95" height="26.60" fill="#c9c9c9"/>
<line x1="399.05" y1="507.13" x2="399.05" y2="512.30" stroke="#8a8a8a" stroke-width="0.75"/>
<line x1="397.95" y1="507.13" x2="400.15" y2="507.13" stroke="#555" stroke-width="0.8"/>
<line x1="403.75" y1="531.51" x2="403.75" y2="538.90" stroke="#8a8a8a" stroke-width="0.75"/>
<line x1="402.65" y1="531.51" x2="404.85" y2="531.51" stroke="#555" stroke-width="0.8"/>
<line x1="408.45" y1="555.16" x2="408.45" y2="564.03" stroke="#5a5a5a" stroke-width="0.75"/>
<line x1="407.35" y1="555.16" x2="409.55" y2="555.16" stroke="#444" stroke-width="0.8"/>
<rect x="418.33" y="512.30" width="5.30" height="73.90" fill="#000"/>
<rect x="422.73" y="539.64" width="5.60" height="46.56" fill="#000"/>
<rect x="427.73" y="558.86" width="4.95" height="27.34" fill="#c9c9c9"/>
<line x1="420.68" y1="510.08" x2="420.68" y2="512.30" stroke="#8a8a8a" stroke-width="0.75"/>
<line x1="419.58" y1="510.08" x2="421.78" y2="510.08" stroke="#555" stroke-width="0.8"/>
<line x1="425.38" y1="530.04" x2="425.38" y2="539.64" stroke="#8a8a8a" stroke-width="0.75"/>
<line x1="424.28" y1="530.04" x2="426.48" y2="530.04" stroke="#555" stroke-width="0.8"/>
<line x1="430.08" y1="552.95" x2="430.08" y2="565.51" stroke="#5a5a5a" stroke-width="0.75"/>
<line x1="428.98" y1="552.95" x2="431.18" y2="552.95" stroke="#444" stroke-width="0.8"/>
<rect x="439.97" y="512.30" width="5.30" height="73.90" fill="#000"/>
<rect x="444.37" y="535.21" width="5.60" height="50.99" fill="#000"/>
<rect x="449.37" y="555.90" width="4.95" height="30.30" fill="#c9c9c9"/>
<line x1="442.32" y1="508.61" x2="442.32" y2="512.30" stroke="#8a8a8a" stroke-width="0.75"/>
<line x1="441.22" y1="508.61" x2="443.42" y2="508.61" stroke="#555" stroke-width="0.8"/>
<line x1="447.02" y1="530.78" x2="447.02" y2="535.21" stroke="#8a8a8a" stroke-width="0.75"/>
<line x1="445.92" y1="530.78" x2="448.12" y2="530.78" stroke="#555" stroke-width="0.8"/>
<line x1="451.72" y1="547.03" x2="451.72" y2="564.03" stroke="#5a5a5a" stroke-width="0.75"/>
<line x1="450.62" y1="547.03" x2="452.82" y2="547.03" stroke="#444" stroke-width="0.8"/>
<rect x="461.61" y="512.30" width="5.30" height="73.90" fill="#000"/>
<rect x="466.01" y="565.51" width="5.60" height="20.69" fill="#000"/>
<rect x="471.01" y="571.42" width="4.95" height="14.78" fill="#c9c9c9"/>
<line x1="463.96" y1="506.39" x2="463.96" y2="512.30" stroke="#8a8a8a" stroke-width="0.75"/>
<line x1="462.86" y1="506.39" x2="465.06" y2="506.39" stroke="#555" stroke-width="0.8"/>
<line x1="468.66" y1="558.12" x2="468.66" y2="565.51" stroke="#8a8a8a" stroke-width="0.75"/>
<line x1="467.56" y1="558.12" x2="469.76" y2="558.12" stroke="#555" stroke-width="0.8"/>
<line x1="473.36" y1="568.46" x2="473.36" y2="575.12" stroke="#5a5a5a" stroke-width="0.75"/>
<line x1="472.26" y1="568.46" x2="474.46" y2="568.46" stroke="#444" stroke-width="0.8"/>
<rect x="483.24" y="512.30" width="5.30" height="73.90" fill="#000"/>
<rect x="487.64" y="500.48" width="5.60" height="85.72" fill="#000"/>
<rect x="492.64" y="488.65" width="4.95" height="97.55" fill="#c9c9c9"/>
<line x1="485.59" y1="508.61" x2="485.59" y2="512.30" stroke="#8a8a8a" stroke-width="0.75"/>
<line x1="484.49" y1="508.61" x2="486.69" y2="508.61" stroke="#555" stroke-width="0.8"/>
<line x1="490.29" y1="493.09" x2="490.29" y2="500.48" stroke="#8a8a8a" stroke-width="0.75"/>
<line x1="489.19" y1="493.09" x2="491.39" y2="493.09" stroke="#555" stroke-width="0.8"/>
<line x1="494.99" y1="476.83" x2="494.99" y2="501.22" stroke="#5a5a5a" stroke-width="0.75"/>
<line x1="493.89" y1="476.83" x2="496.09" y2="476.83" stroke="#444" stroke-width="0.8"/>
<line x1="305.80" y1="467.96" x2="305.80" y2="586.70" stroke="#111" stroke-width="1.0"/>
<line x1="305.30" y1="586.20" x2="502.20" y2="586.20" stroke="#111" stroke-width="1.0"/>
<line x1="301.40" y1="586.20" x2="305.80" y2="586.20" stroke="#111" stroke-width="1.0"/>
<text x="299.00" y="589.50" font-size="9.4" text-anchor="end" fill="#111">0</text>
<line x1="301.40" y1="571.42" x2="305.80" y2="571.42" stroke="#111" stroke-width="1.0"/>
<text x="299.00" y="574.72" font-size="9.4" text-anchor="end" fill="#111">0.2</text>
<line x1="301.40" y1="556.64" x2="305.80" y2="556.64" stroke="#111" stroke-width="1.0"/>
<text x="299.00" y="559.94" font-size="9.4" text-anchor="end" fill="#111">0.4</text>
<line x1="301.40" y1="541.86" x2="305.80" y2="541.86" stroke="#111" stroke-width="1.0"/>
<text x="299.00" y="545.16" font-size="9.4" text-anchor="end" fill="#111">0.6</text>
<line x1="301.40" y1="527.08" x2="305.80" y2="527.08" stroke="#111" stroke-width="1.0"/>
<text x="299.00" y="530.38" font-size="9.4" text-anchor="end" fill="#111">0.8</text>
<line x1="301.40" y1="512.30" x2="305.80" y2="512.30" stroke="#111" stroke-width="1.0"/>
<text x="299.00" y="515.60" font-size="9.4" text-anchor="end" fill="#111">1.0</text>
<line x1="301.40" y1="497.52" x2="305.80" y2="497.52" stroke="#111" stroke-width="1.0"/>
<text x="299.00" y="500.82" font-size="9.4" text-anchor="end" fill="#111">1.2</text>
<line x1="301.40" y1="482.74" x2="305.80" y2="482.74" stroke="#111" stroke-width="1.0"/>
<text x="299.00" y="486.04" font-size="9.4" text-anchor="end" fill="#111">1.4</text>
<line x1="301.40" y1="467.96" x2="305.80" y2="467.96" stroke="#111" stroke-width="1.0"/>
<text x="299.00" y="471.26" font-size="9.4" text-anchor="end" fill="#111">1.6</text>
<line x1="305.80" y1="586.20" x2="305.80" y2="590.40" stroke="#111" stroke-width="1.0"/>
<line x1="327.57" y1="586.20" x2="327.57" y2="590.40" stroke="#111" stroke-width="1.0"/>
<line x1="349.33" y1="586.20" x2="349.33" y2="590.40" stroke="#111" stroke-width="1.0"/>
<line x1="371.10" y1="586.20" x2="371.10" y2="590.40" stroke="#111" stroke-width="1.0"/>
<line x1="392.87" y1="586.20" x2="392.87" y2="590.40" stroke="#111" stroke-width="1.0"/>
<line x1="414.63" y1="586.20" x2="414.63" y2="590.40" stroke="#111" stroke-width="1.0"/>
<line x1="436.40" y1="586.20" x2="436.40" y2="590.40" stroke="#111" stroke-width="1.0"/>
<line x1="458.17" y1="586.20" x2="458.17" y2="590.40" stroke="#111" stroke-width="1.0"/>
<line x1="479.93" y1="586.20" x2="479.93" y2="590.40" stroke="#111" stroke-width="1.0"/>
<line x1="501.70" y1="586.20" x2="501.70" y2="590.40" stroke="#111" stroke-width="1.0"/>
<text x="322.48" y="598.20" font-size="9.0" text-anchor="end" fill="#111" transform="rotate(-50 322.48 598.20)">MLL4</text>
<text x="344.07" y="598.20" font-size="9.0" text-anchor="end" fill="#111" transform="rotate(-50 344.07 598.20)">MMP-9</text>
<text x="365.66" y="598.20" font-size="9.0" text-anchor="end" fill="#111" transform="rotate(-50 365.66 598.20)">MMP-11</text>
<text x="387.24" y="598.20" font-size="9.0" text-anchor="end" fill="#111" transform="rotate(-50 387.24 598.20)">ERBB3</text>
<text x="408.83" y="598.20" font-size="9.0" text-anchor="end" fill="#111" transform="rotate(-50 408.83 598.20)">Six1</text>
<text x="430.42" y="598.20" font-size="9.0" text-anchor="end" fill="#111" transform="rotate(-50 430.42 598.20)">Cyclin A1</text>
<text x="452.00" y="598.20" font-size="9.0" text-anchor="end" fill="#111" transform="rotate(-50 452.00 598.20)">Pim-1</text>
<text x="473.59" y="598.20" font-size="9.0" text-anchor="end" fill="#111" transform="rotate(-50 473.59 598.20)">CSPG4</text>
<text x="495.18" y="598.20" font-size="9.0" text-anchor="end" fill="#111" transform="rotate(-50 495.18 598.20)">Vimentin</text>
<text x="280.00" y="527" font-size="9.4" text-anchor="middle" fill="#111" transform="rotate(-90 280.00 527)">Relative mRNA levels</text>
<rect x="311.50" y="451.10" width="6.40" height="6.40" fill="#000"/>
<text x="321.90" y="457.20" font-size="9.6" fill="#111">shLuc</text>
<rect x="355.80" y="451.10" width="6.40" height="6.40" fill="#7a7a7a"/>
<text x="366.20" y="457.20" font-size="9.6" fill="#111">shMLL4-15</text>
<rect x="424.20" y="451.10" width="6.40" height="6.40" fill="#d0d0d0"/>
<text x="434.60" y="457.20" font-size="9.6" fill="#111">shMLL4-18</text>
<path d="M311.30 478.90 V475.40 H322.50 V489.80" fill="none" stroke="#222" stroke-width="1.0"/>
<path d="M311.30 489.80 V485.50 H317.80 V489.80" fill="none" stroke="#222" stroke-width="1.0"/>
<text class="st" x="317.40" y="474.90" text-anchor="middle">***</text>
<text class="st" x="315.05" y="485.30" text-anchor="middle">**</text>
<path d="M333.67 478.90 V475.40 H345.17 V489.80" fill="none" stroke="#222" stroke-width="1.0"/>
<path d="M333.67 489.80 V485.50 H340.37 V489.80" fill="none" stroke="#222" stroke-width="1.0"/>
<text class="st" x="339.92" y="474.90" text-anchor="middle">***</text>
<text class="st" x="337.52" y="485.30" text-anchor="middle">**</text>
<path d="M355.43 478.90 V475.40 H366.93 V489.80" fill="none" stroke="#222" stroke-width="1.0"/>
<path d="M355.43 489.80 V485.50 H362.13 V489.80" fill="none" stroke="#222" stroke-width="1.0"/>
<text class="st" x="361.68" y="474.90" text-anchor="middle">**</text>
<text class="st" x="359.28" y="485.30" text-anchor="middle">*</text>
<path d="M377.20 478.90 V475.40 H388.70 V489.80" fill="none" stroke="#222" stroke-width="1.0"/>
<path d="M377.20 489.80 V485.50 H383.90 V489.80" fill="none" stroke="#222" stroke-width="1.0"/>
<text class="st" x="383.45" y="474.90" text-anchor="middle">**</text>
<text class="st" x="381.05" y="485.30" text-anchor="middle">*</text>
<path d="M398.97 478.90 V475.40 H410.47 V489.80" fill="none" stroke="#222" stroke-width="1.0"/>
<path d="M398.97 489.80 V485.50 H405.67 V489.80" fill="none" stroke="#222" stroke-width="1.0"/>
<text class="st" x="405.22" y="474.90" text-anchor="middle">**</text>
<text class="st" x="402.82" y="485.30" text-anchor="middle">*</text>
<path d="M420.73 478.90 V475.40 H432.23 V489.80" fill="none" stroke="#222" stroke-width="1.0"/>
<path d="M420.73 489.80 V485.50 H427.43 V489.80" fill="none" stroke="#222" stroke-width="1.0"/>
<text class="st" x="426.98" y="474.90" text-anchor="middle">***</text>
<text class="st" x="424.58" y="485.30" text-anchor="middle">*</text>
<path d="M442.50 478.90 V475.40 H454.00 V489.80" fill="none" stroke="#222" stroke-width="1.0"/>
<path d="M442.50 489.80 V485.50 H449.20 V489.80" fill="none" stroke="#222" stroke-width="1.0"/>
<text class="st" x="448.75" y="474.90" text-anchor="middle">**</text>
<text class="st" x="446.35" y="485.30" text-anchor="middle">*</text>
<path d="M464.27 478.90 V475.40 H475.77 V489.80" fill="none" stroke="#222" stroke-width="1.0"/>
<path d="M464.27 489.80 V485.50 H470.97 V489.80" fill="none" stroke="#222" stroke-width="1.0"/>
<text class="st" x="470.52" y="474.90" text-anchor="middle">***</text>
<text class="st" x="468.12" y="485.30" text-anchor="middle">**</text>
<rect x="1.00" y="1.00" width="517.00" height="1.00" fill="#b4b4b4"/>
<rect x="1.00" y="1.00" width="1.00" height="643.00" fill="#a8a8a8"/>
<rect x="518.00" y="1.00" width="1.00" height="643.00" fill="#a4a4a4"/>
<rect x="1.00" y="643.00" width="518.00" height="1.00" fill="#9c9c9c"/>
<rect x="0.00" y="0.00" width="520.00" height="1.00" fill="#525252"/>
<rect x="0.00" y="0.00" width="1.00" height="645.00" fill="#525252"/>
<rect x="519.00" y="0.00" width="1.00" height="645.00" fill="#525252"/>
<rect x="0.00" y="644.00" width="520.00" height="1.00" fill="#787878"/>
</svg></body></html>
